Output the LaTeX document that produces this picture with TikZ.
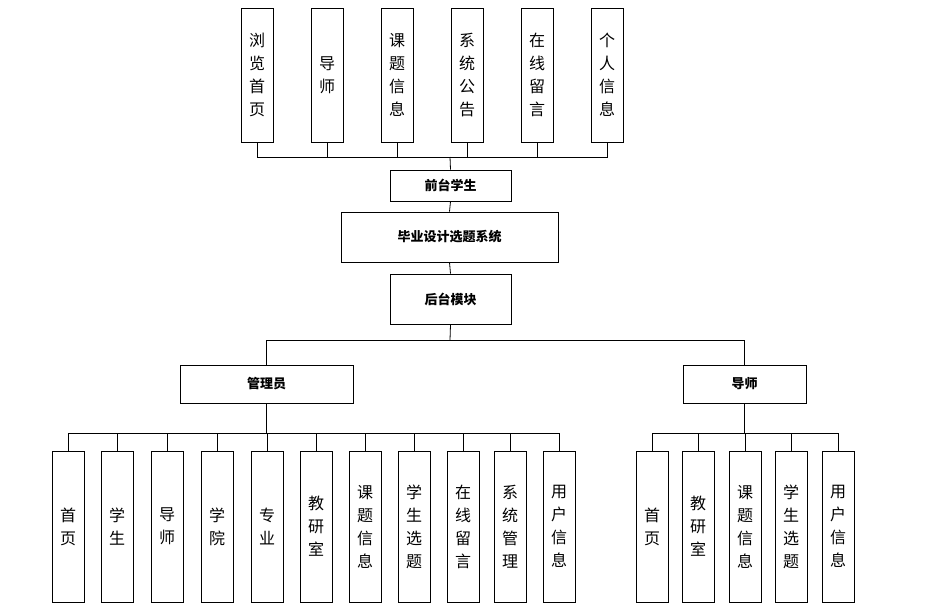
\documentclass[tikz,border=0pt]{standalone}
\usepackage{fontspec}
\setmainfont{Noto Sans CJK SC}
\begin{document}
\begin{tikzpicture}[x=1pt,y=-1pt,
 vbox/.style={draw,thick,minimum width=32pt,align=center,font=\fontsize{16}{23}\selectfont,inner sep=0pt},
 hbox/.style={draw,thick,font=\fontsize{13}{15}\selectfont\bfseries,inner sep=0pt},
 ln/.style={thick}]
\useasboundingbox (0,0) rectangle (952,611);
% top
\foreach \i/\x/\t in {1/257/{浏\\览\\首\\页},2/327/{导\\师},3/397/{课\\题\\信\\息},4/467/{系\\统\\公\\告},5/537/{在\\线\\留\\言},6/607/{个\\人\\信\\息}}
 \node[vbox,minimum height=134pt] (t\i) at (\x,75) {\t};
\node[hbox,minimum width=121pt,minimum height=31pt] (fs) at (450.5,185.5) {前台学生};
\node[hbox,minimum width=217pt,minimum height=50pt] (sys) at (449.5,237) {毕业设计选题系统};
\node[hbox,minimum width=121pt,minimum height=50pt] (bk) at (450.5,299) {后台模块};
\node[hbox,minimum width=173pt,minimum height=38pt] (adm) at (266.5,384) {管理员};
\node[hbox,minimum width=123pt,minimum height=38pt] (tut) at (744.5,384) {导师};
\coordinate (busT) at (450,157);
\foreach \i in {1,...,6} \draw[ln] (t\i.south) |- (busT);
\draw[ln] (busT) -- (fs.north);
\draw[ln] (fs.south) -- (sys.north);
\draw[ln] (sys.south) -- (bk.north);
\coordinate (busM) at (450,340);
\draw[ln] (bk.south) -- (busM);
\draw[ln] (busM) -| (adm.north);
\draw[ln] (busM) -| (tut.north);
% admin children
\foreach \i/\x/\t in {1/68/{首\\页},2/117/{学\\生},3/167/{导\\师},4/217/{学\\院},5/267/{专\\业},6/316/{教\\研\\室},7/365/{课\\题\\信\\息},8/414/{学\\生\\选\\题},9/463/{在\\线\\留\\言},10/510/{系\\统\\管\\理},11/559/{用\\户\\信\\息}}
 \node[vbox,minimum height=151pt] (a\i) at (\x,526.5) {\t};
\coordinate (busA) at (266.5,433);
\draw[ln] (adm.south) -- (busA);
\foreach \i in {1,...,11} \draw[ln] (a\i.north) |- (busA);
% tutor children
\foreach \i/\x/\t in {1/652/{首\\页},2/698/{教\\研\\室},3/745/{课\\题\\信\\息},4/791/{学\\生\\选\\题},5/838/{用\\户\\信\\息}}
 \node[vbox,minimum height=151pt] (b\i) at (\x,526.5) {\t};
\coordinate (busB) at (744.5,433);
\draw[ln] (tut.south) -- (busB);
\foreach \i in {1,...,5} \draw[ln] (b\i.north) |- (busB);
\end{tikzpicture}
\end{document}
